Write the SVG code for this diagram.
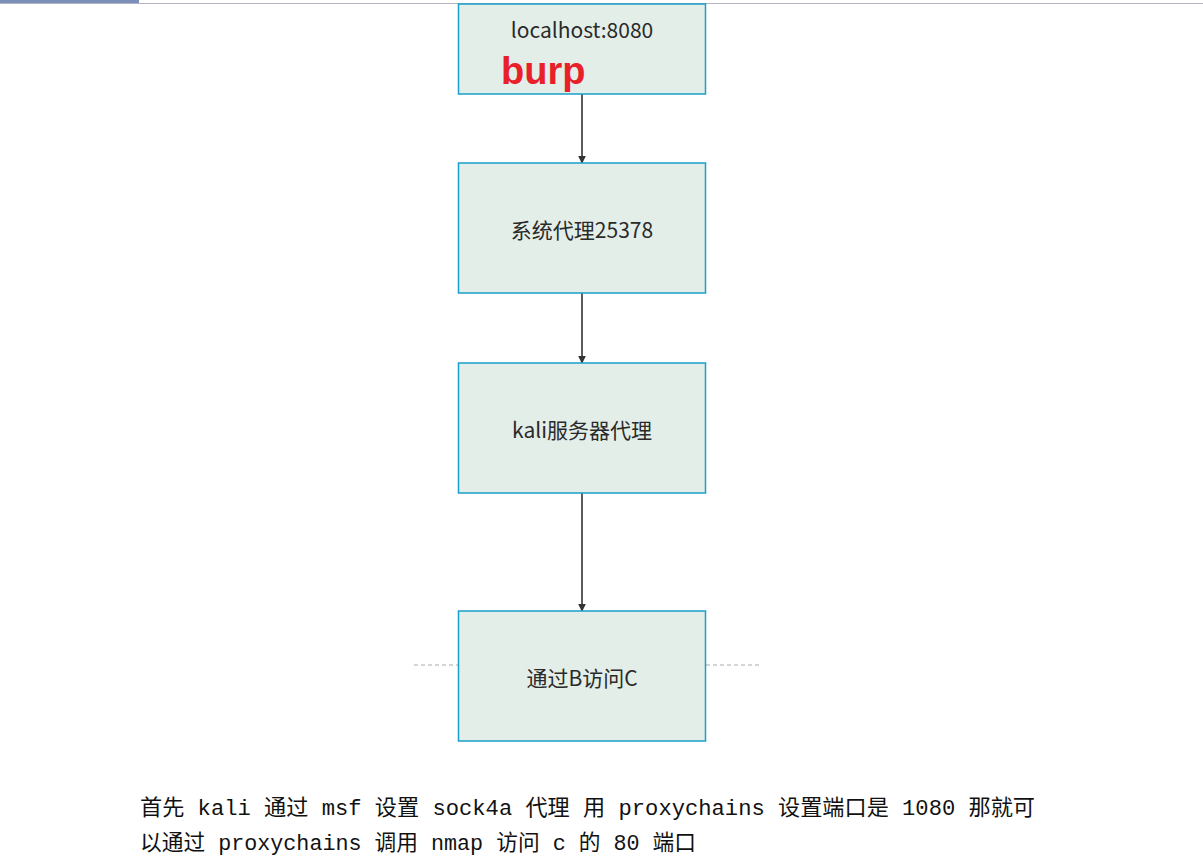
<svg xmlns="http://www.w3.org/2000/svg" width="1203" height="859" viewBox="0 0 1203 859">
<style>
.box{fill:#e4eee8;stroke:#1a9fca;stroke-width:1.5}
.lbl{font-family:"Noto Sans CJK SC","Noto Sans",sans-serif;font-size:21px;fill:#2a2a2a;text-anchor:middle}
.edge{stroke:#333;stroke-width:1.6;fill:none;marker-end:url(#ah)}
.note{font-family:"Liberation Mono","Noto Sans CJK SC",monospace;font-size:22px;fill:#111}
.sq{stroke:#c00;stroke-width:1;fill:none;stroke-dasharray:2 1}
</style>
<defs><marker id="ah" viewBox="0 0 10 10" refX="9" refY="5" markerWidth="8" markerHeight="8" markerUnits="userSpaceOnUse" orient="auto"><path d="M0,0L10,5L0,10z" fill="#333"/></marker></defs>
<rect width="1203" height="859" fill="#fff"/>
<line x1="0" y1="3.5" x2="1203" y2="3.5" stroke="#b0b4c4" stroke-width="1"/>
<rect x="0" y="0" width="139" height="3" fill="#7c8fb8"/>
<line x1="414" y1="665" x2="458" y2="665" stroke="#aaa" stroke-dasharray="4 3"/>
<line x1="706" y1="665" x2="762" y2="665" stroke="#aaa" stroke-dasharray="4 3"/>
<g id="connectors">
<line class="edge" x1="582" y1="94" x2="582" y2="163"/>
<line class="edge" x1="582" y1="293" x2="582" y2="363"/>
<line class="edge" x1="582" y1="493" x2="582" y2="611"/>
</g>
<g id="n1"><rect class="box" x="458.5" y="4" width="247" height="90"/>
<text class="lbl" x="582" y="38">localhost:8080</text>
<text x="501" y="84" font-family="Liberation Sans,Arial,sans-serif" font-weight="bold" font-size="38" fill="#e8202a">burp</text></g>
<g id="n2"><rect class="box" x="458.5" y="163" width="247" height="130"/><text class="lbl" x="582" y="238">系统代理25378</text></g>
<g id="n3"><rect class="box" x="458.5" y="363" width="247" height="130"/><text class="lbl" x="582" y="438">kali服务器代理</text></g>
<g id="n4"><rect class="box" x="458.5" y="611" width="247" height="130"/><text class="lbl" x="582" y="686">通过B访问C</text></g>
<g id="note">
<text class="note" x="140" y="815" textLength="895" lengthAdjust="spacingAndGlyphs">首先 kali 通过 msf 设置 sock4a 代理 用 proxychains 设置端口是 1080 那就可</text>
<text class="note" x="140" y="850" textLength="556" lengthAdjust="spacingAndGlyphs">以通过 proxychains 调用 nmap 访问 c 的 80 端口</text>
</g>
</svg>
